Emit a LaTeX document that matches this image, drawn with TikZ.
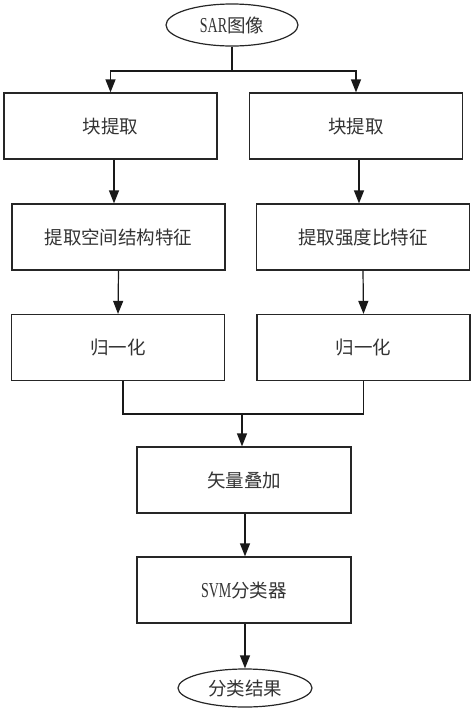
\documentclass[tikz,border=0pt]{standalone}
\usepackage{fontspec}
\setmainfont{Noto Sans CJK SC}
\newfontfamily\latinf[FakeStretch=0.66,Scale=1.15]{Liberation Serif}
\usetikzlibrary{arrows.meta,shapes.geometric}
\tikzset{
  box/.style={draw=black!85,line width=1.2pt,rectangle,minimum width=213pt,minimum height=66pt,inner sep=0pt,font=\fontsize{18.5}{21}\selectfont,text=black!80},
  oval/.style={draw=black!85,line width=1.2pt,ellipse,inner sep=0pt,font=\fontsize{18.5}{21}\selectfont,text=black!80},
  link/.style={line width=1.2pt,draw=black!90},
  arr/.style={link,-{Triangle[length=13pt,width=10pt]}}
}
\begin{document}
\begin{tikzpicture}[x=1pt,y=-1pt]
\useasboundingbox (0,0) rectangle (474,718);
\node[oval,minimum width=132pt,minimum height=42pt] (top) at (232,25) {{\latinf SAR}图像};
\node[box] (ba) at (110.5,126) {块提取};
\node[box] (bb) at (356,126) {块提取};
\node[box] (fa) at (118.5,237) {提取空间结构特征};
\node[box] (fb) at (363,237) {提取强度比特征};
\node[box] (na) at (118,347.5) {归一化};
\node[box] (nb) at (363.5,347.5) {归一化};
\node[box,minimum width=214pt] (vec) at (244,480) {矢量叠加};
\node[box,minimum width=214pt] (svm) at (244,590) {{\latinf SVM}分类器};
\node[oval,minimum width=134pt,minimum height=38pt] (res) at (245,688) {分类结果};
\coordinate (split) at (232,71);
\coordinate (merge) at (242,414);
\draw[link] (top.south) -- (split);
\draw[arr] (split) -| (ba.north);
\draw[arr] (split) -| (bb.north);
\draw[arr] ([xshift=3.5pt]ba.south) -- ([xshift=-4.5pt]fa.north);
\draw[arr] ([xshift=3pt]bb.south) -- ([xshift=-4pt]fb.north);
\draw[arr] (fa.south) -- (na.north);
\draw[arr] (fb.south) -- (nb.north);
\draw[link] ([xshift=5pt]na.south) |- (merge);
\draw[link] (nb.south) |- (merge);
\draw[arr] (merge) -- (merge |- vec.north);
\draw[arr] ([xshift=1pt]vec.south) -- ([xshift=1pt]svm.north);
\draw[arr] ([xshift=1pt]svm.south) -- (res.north);
\end{tikzpicture}
\end{document}
